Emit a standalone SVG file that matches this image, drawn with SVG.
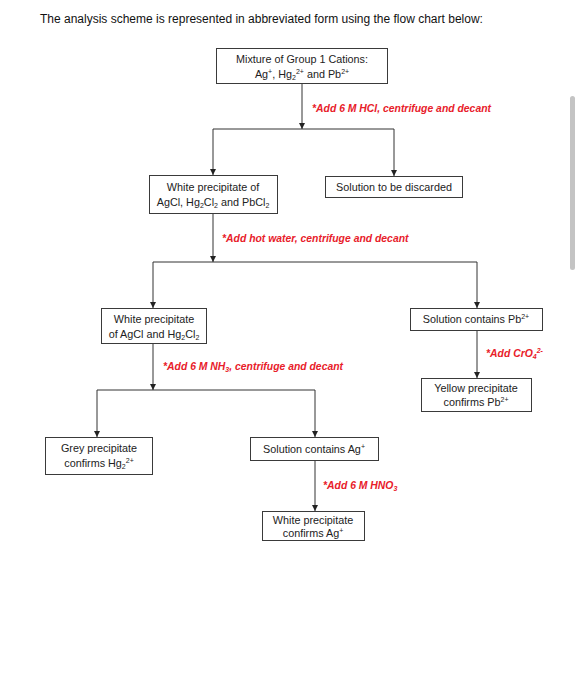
<svg xmlns="http://www.w3.org/2000/svg" width="581" height="700" viewBox="0 0 581 700">
<style>
.box{fill:#fff;stroke:#3a3a3a;stroke-width:1}
.t{font-family:"Liberation Sans",Arial,sans-serif;font-size:10.8px;fill:#222;text-anchor:middle}
.r{font-family:"Liberation Sans",Arial,sans-serif;font-size:10.4px;font-weight:bold;font-style:italic;fill:#e8202a}
.ln{fill:none;stroke:#333;stroke-width:1}
.title{font-family:"Liberation Sans",Arial,sans-serif;font-size:12px;fill:#111}
</style>
<defs>
<marker id="ah" markerUnits="userSpaceOnUse" markerWidth="7" markerHeight="7" refX="6" refY="3" orient="auto">
<path d="M0,0 L6,3 L0,6 z" fill="#222"/>
</marker>
</defs>
<rect width="581" height="700" fill="#fff"/>
<text class="title" x="40" y="23">The analysis scheme is represented in abbreviated form using the flow chart below:</text>
<rect x="570" y="96" width="5" height="174" rx="2.5" fill="#c4c4c4"/>

<g id="connectors">
<path class="ln" d="M302,83 V129" marker-end="url(#ah)"/>
<path class="ln" d="M213,129 H394"/>
<path class="ln" d="M213,129 V175" marker-end="url(#ah)"/>
<path class="ln" d="M394,129 V176" marker-end="url(#ah)"/>
<path class="ln" d="M213,214 V262" marker-end="url(#ah)"/>
<path class="ln" d="M153,262 H477"/>
<path class="ln" d="M153,262 V308" marker-end="url(#ah)"/>
<path class="ln" d="M477,262 V308" marker-end="url(#ah)"/>
<path class="ln" d="M153,343 V390" marker-end="url(#ah)"/>
<path class="ln" d="M97,390 H315"/>
<path class="ln" d="M97,390 V437" marker-end="url(#ah)"/>
<path class="ln" d="M315,390 V437" marker-end="url(#ah)"/>
<path class="ln" d="M477,330 V378" marker-end="url(#ah)"/>
<path class="ln" d="M315,460 V511" marker-end="url(#ah)"/>
<text class="r" x="312" y="112">*Add 6 M HCl, centrifuge and decant</text>
<text class="r" x="222" y="242">*Add hot water, centrifuge and decant</text>
<text class="r" x="163" y="370">*Add 6 M NH<tspan font-size="7" baseline-shift="-2">3</tspan>, centrifuge and decant</text>
<text class="r" x="486" y="357">*Add CrO<tspan font-size="7" baseline-shift="-2">4</tspan><tspan font-size="7" baseline-shift="4">2-</tspan></text>
<text class="r" x="323" y="489">*Add 6 M HNO<tspan font-size="7" baseline-shift="-2">3</tspan></text>
</g>

<g id="n_mixture">
<rect class="box" x="216.5" y="48.5" width="171" height="35"/>
<text class="t" x="302" y="63">Mixture of Group 1 Cations:</text>
<text class="t" x="302" y="78">Ag<tspan font-size="7" baseline-shift="4">+</tspan>, Hg<tspan font-size="7" baseline-shift="-2">2</tspan><tspan font-size="7" baseline-shift="4">2+</tspan> and Pb<tspan font-size="7" baseline-shift="4">2+</tspan></text>
</g>

<g id="n_white1">
<rect class="box" x="149.5" y="175.5" width="128" height="38"/>
<text class="t" x="213" y="191">White precipitate of</text>
<text class="t" x="213" y="206">AgCl, Hg<tspan font-size="7" baseline-shift="-2">2</tspan>Cl<tspan font-size="7" baseline-shift="-2">2</tspan> and PbCl<tspan font-size="7" baseline-shift="-2">2</tspan></text>
</g>

<g id="n_discard">
<rect class="box" x="325.5" y="176.5" width="137" height="21"/>
<text class="t" x="394" y="191">Solution to be discarded</text>
</g>

<g id="n_white2">
<rect class="box" x="101.5" y="308.5" width="105" height="35"/>
<text class="t" x="154" y="323">White precipitate</text>
<text class="t" x="154" y="338">of AgCl and Hg<tspan font-size="7" baseline-shift="-2">2</tspan>Cl<tspan font-size="7" baseline-shift="-2">2</tspan></text>
</g>

<g id="n_pb">
<rect class="box" x="410.5" y="308.5" width="132" height="22"/>
<text class="t" x="476" y="323">Solution contains Pb<tspan font-size="7" baseline-shift="4">2+</tspan></text>
</g>

<g id="n_yellow">
<rect class="box" x="421.5" y="378.5" width="110" height="33"/>
<text class="t" x="476" y="392">Yellow precipitate</text>
<text class="t" x="476" y="406">confirms Pb<tspan font-size="7" baseline-shift="4">2+</tspan></text>
</g>

<g id="n_grey">
<rect class="box" x="45.5" y="437.5" width="107" height="37"/>
<text class="t" x="99" y="452">Grey precipitate</text>
<text class="t" x="99" y="467">confirms Hg<tspan font-size="7" baseline-shift="-2">2</tspan><tspan font-size="7" baseline-shift="4">2+</tspan></text>
</g>

<g id="n_ag">
<rect class="box" x="250.5" y="437.5" width="128" height="23"/>
<text class="t" x="314" y="453">Solution contains Ag<tspan font-size="7" baseline-shift="4">+</tspan></text>
</g>

<g id="n_whiteag">
<rect class="box" x="262.5" y="511.5" width="102" height="29"/>
<text class="t" x="313" y="524">White precipitate</text>
<text class="t" x="313" y="537">confirms Ag<tspan font-size="7" baseline-shift="4">+</tspan></text>
</g>
</svg>
